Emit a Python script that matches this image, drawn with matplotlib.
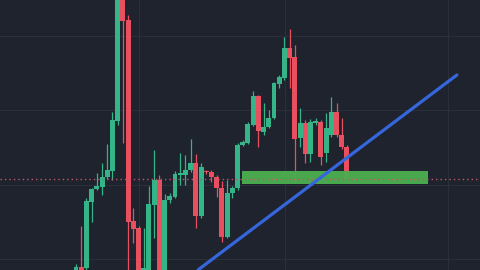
import numpy as np
import matplotlib
matplotlib.use("Agg")
import matplotlib.pyplot as plt
from matplotlib.patches import Rectangle

# 行情数据（价格单位为图上读数）
opens  = [0, 3, 2, 68, 81, 83, 93, 99, 149, 285, 250, 49, 42, -5, -5, 65, 90, -5, 70, 73,
          95, 95, 100, 107, 54, 99, 98, 93, 82, 33, 77, 82, 125, 127, 145, 174, 138, 143, 152, 186,
          192, 222, 213, 132, 147, 116, 147, 148, 117, 135, 158, 135, 123]
highs  = [6, 44, 72, 82, 97, 107, 126, 158, 290, 290, 255, 62, 44, 42, 84, 120, 95, 76, 77, 99,
          117, 115, 131, 116, 107, 100, 100, 95, 89, 90, 84, 127, 130, 148, 179, 175, 167, 160, 188, 195,
          233, 241, 225, 162, 150, 151, 152, 150, 157, 173, 167, 152, 125]
lows   = [-1, -5, -2, 48, 80, 75, 91, 90, 145, 127, -15, 27, -10, -10, -10, 32, -10, -10, 67, 72,
          85, 85, 98, 42, 52, 96, 88, 73, 28, 32, 72, 80, 124, 126, 144, 123, 135, 142, 151, 182,
          190, 182, 88, 123, 107, 108, 145, 105, 108, 133, 133, 121, 89]
closes = [3, 0, 69, 81, 84, 93, 100, 150, 285, 249, 48, 41, -5, 2, 66, 90, -5, 70, 74, 96,
          97, 100, 107, 54, 103, 98, 93, 82, 33, 77, 82, 125, 128, 146, 174, 139, 143, 152, 187, 193,
          222, 212, 131, 147, 116, 148, 149, 113, 142, 158, 135, 123, 91]

# 画线工具
trend_start = (23.4, 0)
trend_end = (73.1, 195)
zone_left, zone_right = 31.8, 67.6
zone_low, zone_high = 86, 99
last_price = 90.7
grid_x = [12.1, 40.1, 71.4]
grid_y = [11, 85, 160, 234]

bg = "#1f232e"
up_color = "#35b487"
down_color = "#e9505f"

fig = plt.figure(figsize=(4.8, 2.7), dpi=100, facecolor=bg)
ax = fig.add_axes([0, 0, 1, 1])
ax.set_facecolor(bg)

for gx in grid_x:
    ax.axvline(gx, color="#2b2f3a", linewidth=0.8, zorder=0)
for gy in grid_y:
    ax.axhline(gy, color="#2b2f3a", linewidth=0.8, zorder=0)

idx = np.arange(len(opens))
o = np.array(opens)
c = np.array(closes)
colors = [up_color if cc >= oo else down_color for oo, cc in zip(o, c)]

ax.vlines(idx, lows, highs, colors=colors, linewidth=0.9, zorder=2)
body_h = np.maximum(np.abs(c - o), 1.2)
ax.bar(idx, body_h, bottom=np.minimum(o, c), width=0.95, color=colors, linewidth=0, zorder=3)

ax.add_patch(Rectangle((zone_left, zone_low), zone_right - zone_left, zone_high - zone_low,
                       facecolor="#4caf50", edgecolor="none", alpha=0.95, zorder=4))

ax.axhline(last_price, color="#c0566a", linewidth=1.0, linestyle=(0, (1, 2.2)), zorder=5)

ax.plot([trend_start[0], trend_end[0]], [trend_start[1], trend_end[1]],
        color="#3566dc", linewidth=2.3, solid_capstyle="round", zorder=6)

ax.set_xlim(-14.59, 77.54)
ax.set_ylim(0, 270)
ax.axis("off")

fig.savefig("out.png", dpi=100, facecolor=bg)
